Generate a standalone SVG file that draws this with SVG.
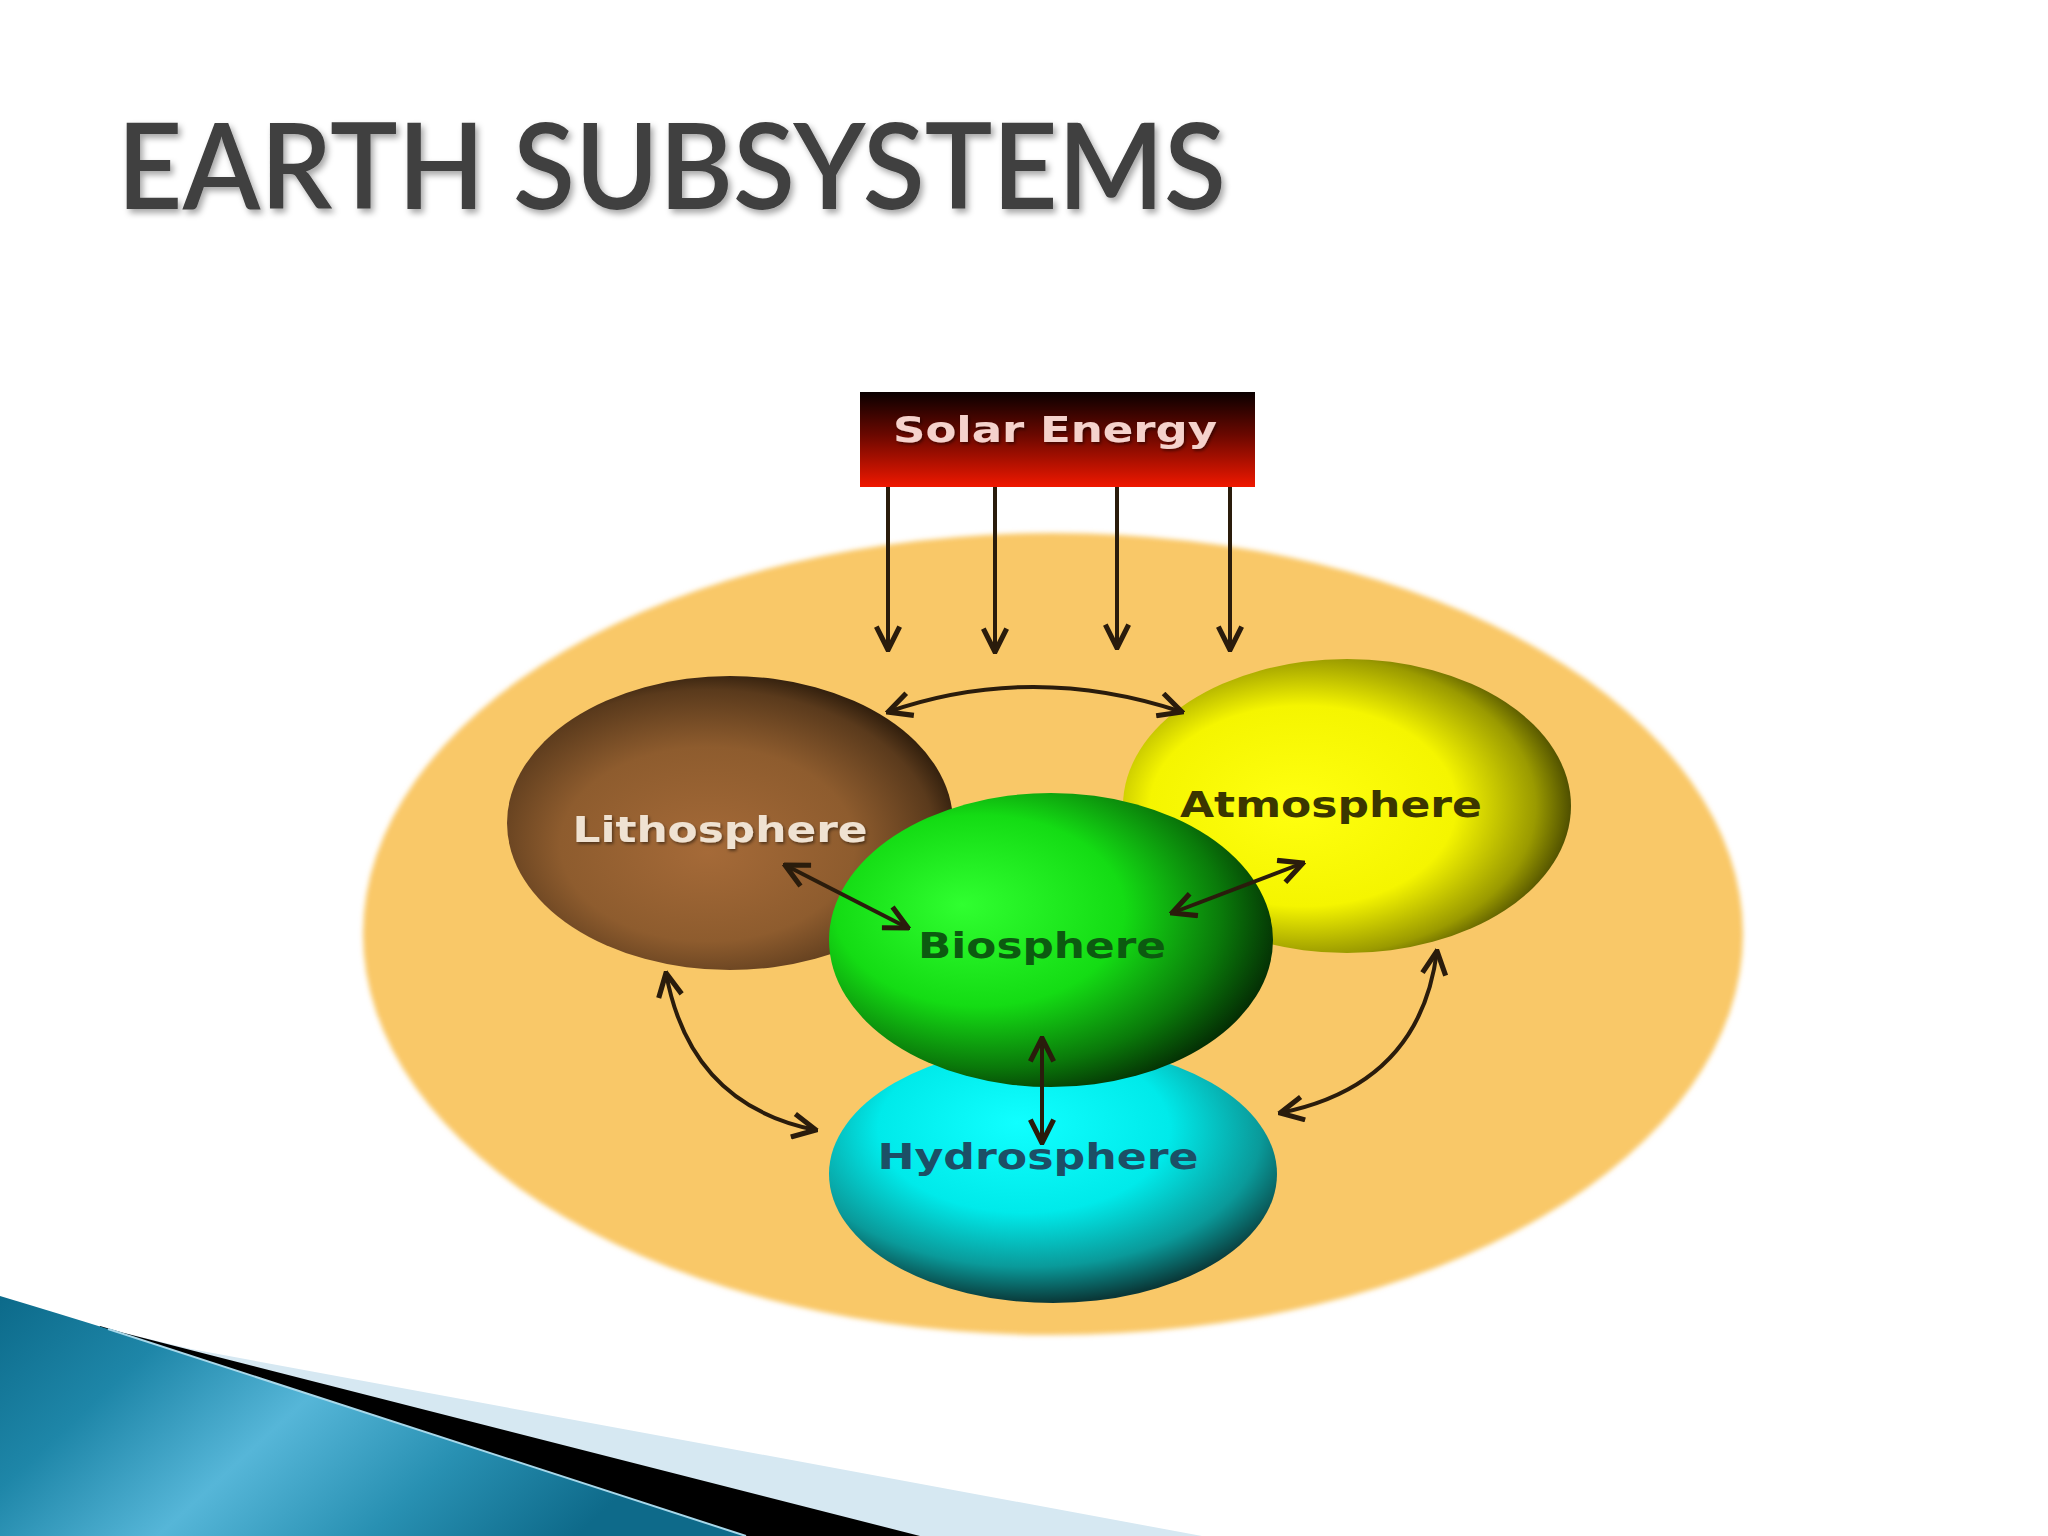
<svg xmlns="http://www.w3.org/2000/svg" width="2048" height="1536" viewBox="0 0 2048 1536">
<defs>
<style>
.lbl{font-family:"DejaVu Sans","Liberation Sans",sans-serif;font-size:36px;font-weight:bold;text-anchor:middle;}
.conn{fill:none;stroke:#2a1c0c;stroke-width:4;}
</style>
<filter id="soft" x="-5%" y="-5%" width="110%" height="110%"><feGaussianBlur stdDeviation="2.5"/></filter>
<filter id="tshadow" x="-5%" y="-20%" width="110%" height="150%"><feDropShadow dx="3" dy="4" stdDeviation="3" flood-color="#000" flood-opacity="0.35"/></filter>
<filter id="lshadow" x="-5%" y="-20%" width="110%" height="150%"><feDropShadow dx="1.5" dy="2" stdDeviation="1.5" flood-color="#000" flood-opacity="0.45"/></filter>
<linearGradient id="solarG" x1="0" y1="0" x2="0" y2="1">
<stop offset="0" stop-color="#0a0000"/><stop offset="0.45" stop-color="#6a0800"/><stop offset="1" stop-color="#f01800"/>
</linearGradient>
<radialGradient id="lithoG" cx="0.45" cy="0.55" r="0.6" fx="0.45" fy="0.6">
<stop offset="0" stop-color="#a56a38"/><stop offset="0.55" stop-color="#8e5c2e"/><stop offset="0.85" stop-color="#5a3a1c"/><stop offset="1" stop-color="#1e1206"/>
</radialGradient>
<radialGradient id="atmoG" cx="0.42" cy="0.5" r="0.62" fx="0.38" fy="0.5">
<stop offset="0" stop-color="#ffff10"/><stop offset="0.55" stop-color="#f5f500"/><stop offset="0.82" stop-color="#9a9a00"/><stop offset="1" stop-color="#2a2a00"/>
</radialGradient>
<radialGradient id="bioG" cx="0.38" cy="0.42" r="0.65" fx="0.3" fy="0.38">
<stop offset="0" stop-color="#30ff30"/><stop offset="0.5" stop-color="#14dc14"/><stop offset="0.8" stop-color="#0a7a0a"/><stop offset="1" stop-color="#042a04"/>
</radialGradient>
<radialGradient id="hydroG" cx="0.45" cy="0.35" r="0.65" fx="0.42" fy="0.3">
<stop offset="0" stop-color="#10ffff"/><stop offset="0.5" stop-color="#00eaea"/><stop offset="0.8" stop-color="#0a9a9a"/><stop offset="1" stop-color="#0a3838"/>
</radialGradient>
<linearGradient id="blueG" x1="0" y1="0" x2="1" y2="0.35">
<stop offset="0" stop-color="#0c6a8a"/><stop offset="0.25" stop-color="#1e86a8"/><stop offset="0.5" stop-color="#56b6d8"/><stop offset="0.75" stop-color="#2890b2"/><stop offset="1" stop-color="#0e6a8a"/>
</linearGradient>
<marker id="ah" viewBox="0 0 12 12" refX="11" refY="6" markerWidth="7" markerHeight="7" markerUnits="strokeWidth" orient="auto-start-reverse">
<path d="M1,1 L11,6 L1,11" fill="none" stroke="#2a1c0c" stroke-width="2.2"/>
</marker>
</defs>
<rect width="2048" height="1536" fill="#ffffff"/>

<g id="title">
<text x="117" y="209" font-family="Lato,'Open Sans',sans-serif" font-size="120" font-weight="600" fill="#404040" textLength="1109" lengthAdjust="spacingAndGlyphs" filter="url(#tshadow)">EARTH SUBSYSTEMS</text>
</g>

<g id="decoration">
<path d="M124,1333 L191,1349 L1202,1536 L0,1536 Z" fill="#d6e8f2"/>
<path d="M100,1326 L124,1333 L920,1536 L0,1536 Z" fill="#000000"/>
<path d="M0,1296 Q60,1314 108,1329 L746,1536 L0,1536 Z" fill="url(#blueG)"/>
<path d="M108,1329 L746,1536" stroke="#a8d8ea" stroke-width="2" fill="none"/>
</g>

<g id="earth">
<ellipse cx="1053" cy="934" rx="690" ry="401" fill="#f9c868" filter="url(#soft)"/>
</g>

<g id="solar-energy">
<rect x="860" y="392" width="395" height="95" fill="url(#solarG)"/>
<text class="lbl" x="1055" y="442" fill="#f5d2cc" textLength="324" lengthAdjust="spacingAndGlyphs" filter="url(#lshadow)">Solar Energy</text>
</g>

<g id="lithosphere">
<ellipse cx="730" cy="823" rx="223" ry="147" fill="url(#lithoG)"/>
<text class="lbl" x="720" y="842" fill="#efe2d2" textLength="295" lengthAdjust="spacingAndGlyphs" filter="url(#lshadow)">Lithosphere</text>
</g>

<g id="atmosphere">
<ellipse cx="1347" cy="806" rx="224" ry="147" fill="url(#atmoG)"/>
<text class="lbl" x="1331" y="817" fill="#3b3600" textLength="302" lengthAdjust="spacingAndGlyphs">Atmosphere</text>
</g>

<g id="hydrosphere">
<ellipse cx="1053" cy="1174" rx="224" ry="129" fill="url(#hydroG)"/>
<text class="lbl" x="1038" y="1169" fill="#1c4f66" textLength="321" lengthAdjust="spacingAndGlyphs">Hydrosphere</text>
</g>

<g id="biosphere">
<ellipse cx="1051" cy="940" rx="222" ry="147" fill="url(#bioG)"/>
<text class="lbl" x="1042" y="958" fill="#0c5a10" textLength="248" lengthAdjust="spacingAndGlyphs">Biosphere</text>
</g>

<g id="connectors">
<path class="conn" d="M888,487 L888,650" marker-end="url(#ah)"/>
<path class="conn" d="M995,487 L995,652" marker-end="url(#ah)"/>
<path class="conn" d="M1117,487 L1117,648" marker-end="url(#ah)"/>
<path class="conn" d="M1230,487 L1230,650" marker-end="url(#ah)"/>
<path class="conn" d="M888,712 Q1032,662 1182,712" marker-start="url(#ah)" marker-end="url(#ah)"/>
<path class="conn" d="M666,973 Q690,1105 816,1130" marker-start="url(#ah)" marker-end="url(#ah)"/>
<path class="conn" d="M1437,951 Q1420,1085 1280,1113" marker-start="url(#ah)" marker-end="url(#ah)"/>
<path class="conn" d="M785,865 L908,928" marker-start="url(#ah)" marker-end="url(#ah)"/>
<path class="conn" d="M1172,913 L1303,863" marker-start="url(#ah)" marker-end="url(#ah)"/>
<path class="conn" d="M1042,1038 L1042,1143" marker-start="url(#ah)" marker-end="url(#ah)"/>
</g>
</svg>
